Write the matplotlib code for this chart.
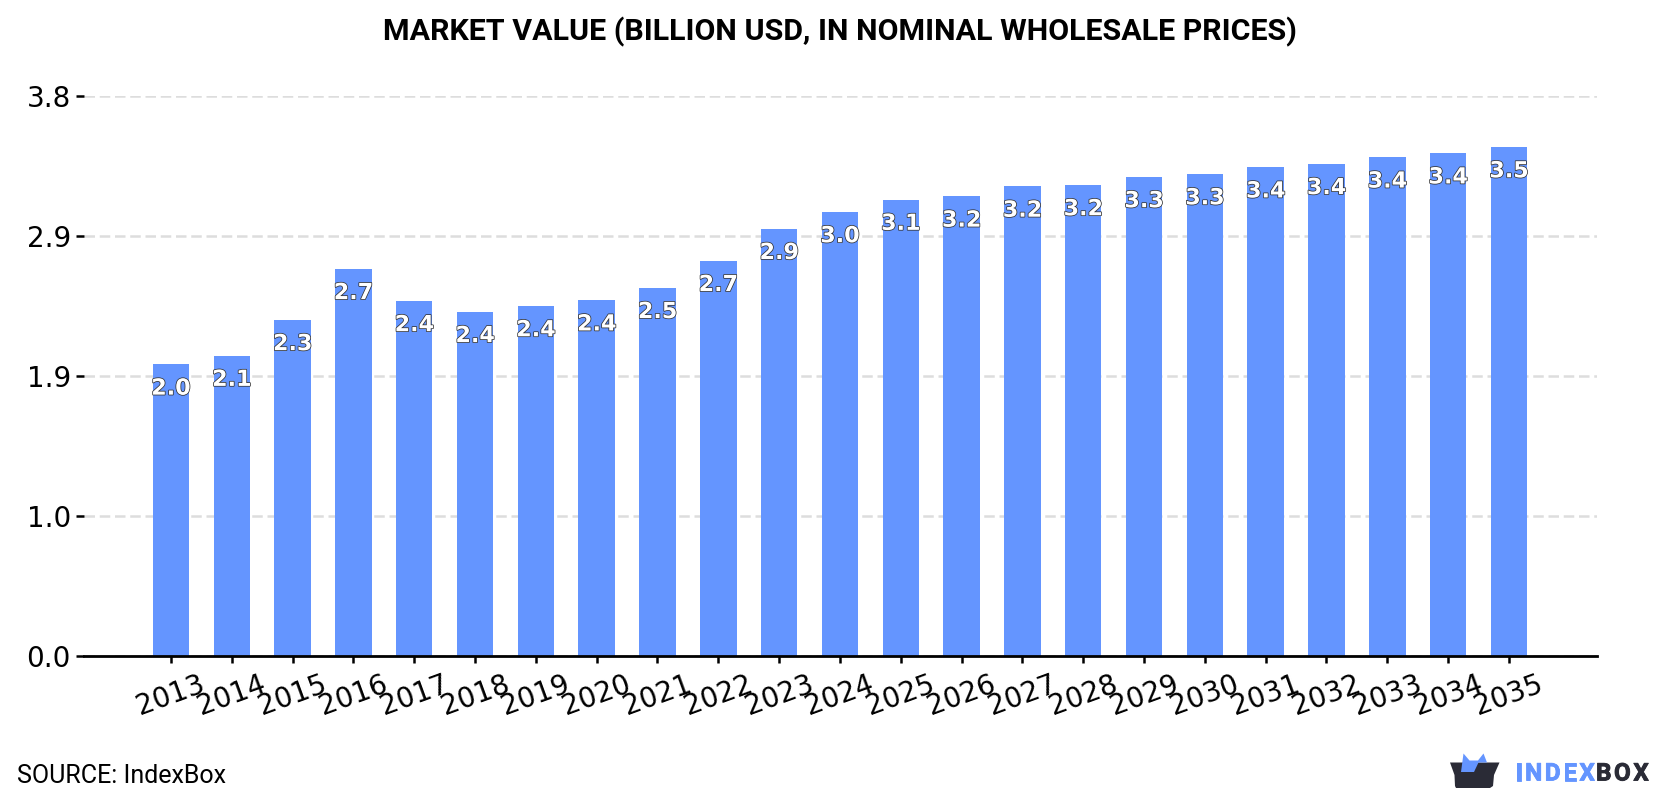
import matplotlib
matplotlib.use('Agg')
import matplotlib.pyplot as plt
import matplotlib.patheffects as pe
from matplotlib.patches import Polygon

years = list(range(2013, 2036))
values = [2.00, 2.06, 2.305, 2.655, 2.435, 2.36, 2.40, 2.44, 2.525, 2.71, 2.93, 3.045,
          3.13, 3.152, 3.22, 3.23, 3.285, 3.305, 3.352, 3.375, 3.42, 3.448, 3.49]
y_ticks = [0, 0.96, 1.92, 2.88, 3.84]

title = 'MARKET VALUE (BILLION USD, IN NOMINAL WHOLESALE PRICES)'
source = 'SOURCE: IndexBox'

BAR_BLUE = '#6495ff'
LOGO_DARK = '#2a2b36'

W, H = 1680, 800
fig = plt.figure(figsize=(W / 100, H / 100), dpi=100, facecolor='white')
ax = fig.add_axes([84 / W, 1 - 656 / H, (1596.5 - 84) / W, (656 - 96) / H])

x = list(range(len(years)))
ax.bar(x, values, width=0.6, color=BAR_BLUE, zorder=3)

ax.set_xlim(-1.43, 23.44)
ax.set_ylim(0, 3.84)

ax.set_xticks(x)
ax.set_xticklabels(years, rotation=20, ha='center', fontsize=20, color='black')
ax.set_yticks(y_ticks)
ax.set_yticklabels([f'{t:.1f}' for t in y_ticks], fontsize=20, color='black')
ax.tick_params(axis='y', length=5.5, width=1.8, pad=4, color='black')
ax.tick_params(axis='x', length=5, width=1.8, pad=5, color='black')

for s in ['top', 'left', 'right']:
    ax.spines[s].set_visible(False)
ax.spines['bottom'].set_linewidth(2)
ax.spines['bottom'].set_zorder(4)

ax.grid(axis='y', color='#dddddd', linewidth=1.8, linestyle=(0, (4.2, 1.9)), zorder=1)
ax.set_axisbelow(True)

# value labels sit just under the top of each bar
for xi, v in zip(x, values):
    ax.annotate(f'{v:.1f}', (xi, v), xytext=(0, -17.5), textcoords='offset points',
                ha='center', va='center', fontsize=16, fontweight='bold',
                color='white', zorder=5,
                path_effects=[pe.withStroke(linewidth=1.1, foreground='#333333')])

# overlay in pixel coordinates for the title, footer and logo
ov = fig.add_axes([0, 0, 1, 1], facecolor='none')
ov.set_xlim(0, W)
ov.set_ylim(H, 0)
ov.axis('off')

ov.text(840, 32, title, ha='center', va='center', fontsize=21.9, fontweight='bold',
        family='Roboto', color='black')
ov.text(17, 776, source, ha='left', va='center', fontsize=18, family='Roboto', color='black')

box = [(1450, 762.5), (1499.5, 762.5), (1494, 775), (1493, 786), (1490, 788), (1456, 788),
       (1455, 786), (1454.5, 775)]
flap = [(1461, 772), (1463.5, 753.5), (1469.5, 760.5), (1478, 760.5), (1483.5, 753.5),
        (1487, 762.5), (1478.5, 762.5), (1474, 772)]
ov.add_patch(Polygon(box, closed=True, facecolor=LOGO_DARK, edgecolor='none'))
ov.add_patch(Polygon(flap, closed=True, facecolor=BAR_BLUE, edgecolor='none', zorder=3))


def spaced_text(xpos, word, color, gap):
    # wordmark is tracked out, so each letter is placed on its own
    r = fig.canvas.get_renderer()
    for ch in word:
        t = ov.text(xpos, 774, ch, ha='left', va='center', fontsize=17.5, fontweight='bold',
                    family='Roboto', color=color,
                    path_effects=[pe.withStroke(linewidth=0.6, foreground=color)])
        xpos += t.get_window_extent(r).width + gap
    return xpos


spaced_text(1515.5, 'INDEX', BAR_BLUE, 2.6)
spaced_text(1596, 'BOX', LOGO_DARK, 2.6)

fig.savefig('out.png', dpi=100)
